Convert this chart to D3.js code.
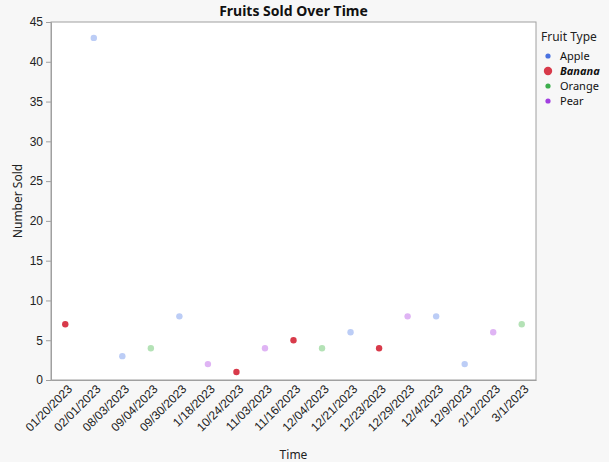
<!DOCTYPE html>
<html><head><meta charset="utf-8">
<script src="https://cdn.jsdelivr.net/npm/d3@7"></script>
<style>
body{margin:0;background:#f7f7f7;}
svg{display:block;font-family:"Segoe UI","Noto Sans","Open Sans",sans-serif;}
</style></head><body>
<svg id="c" width="609" height="462"></svg>
<script>
const categories = ["01/20/2023","02/01/2023","08/03/2023","09/04/2023","09/30/2023","1/18/2023","10/24/2023","11/03/2023","11/16/2023","12/04/2023","12/21/2023","12/23/2023","12/29/2023","12/4/2023","12/9/2023","2/12/2023","3/1/2023"];
const fruits = ["Banana","Apple","Apple","Orange","Apple","Pear","Banana","Pear","Banana","Orange","Apple","Banana","Pear","Apple","Apple","Pear","Orange"];
const values = [7,43,3,4,8,2,1,4,5,4,6,4,8,8,2,6,7];
const legendNames = ["Apple","Banana","Orange","Pear"];
const legendColors = ["#4a72e0","#d83a4a","#3cae4c","#a23fe0"];
const pointColors = ["#bccdf6","#d83a4a","#b4e2b6","#dfb4f4"];
const yTicks = [0,5,10,15,20,25,30,35,40,45];

const svg = d3.select("#c");
const m = {l:51, r:536, t:22, b:380};
const x = d3.scalePoint().domain(categories).range([m.l, m.r]).padding(0.5);
const y = d3.scaleLinear().domain([0,45]).range([m.b, m.t]);
const col = d3.scaleOrdinal().domain(legendNames).range(pointColors);
const lcol = d3.scaleOrdinal().domain(legendNames).range(legendColors);

svg.append("rect").attr("x",m.l).attr("y",m.t).attr("width",m.r-m.l).attr("height",m.b-m.t)
  .attr("fill","#fff").attr("stroke","#a0a0a0").attr("stroke-width",1);

const ya = svg.append("g").attr("transform",`translate(${m.l},0)`)
  .call(d3.axisLeft(y).tickValues(yTicks).tickSize(5).tickPadding(3));
ya.select(".domain").attr("stroke","#a0a0a0");
ya.selectAll(".tick line").attr("stroke","#a0a0a0");
ya.selectAll("text").attr("font-size","12px").attr("fill","#222");

const xa = svg.append("g").attr("transform",`translate(0,${m.b})`)
  .call(d3.axisBottom(x).tickSize(0).tickPadding(6));
xa.select(".domain").attr("stroke","#a0a0a0");
xa.selectAll("text").attr("font-size","12px").attr("fill","#222")
  .attr("text-anchor","end").attr("dx","-0.15em").attr("dy","0.5em")
  .attr("transform","rotate(-45)");

const data = categories.map((c,i)=>({c, f:fruits[i], v:values[i]}));
svg.append("g").selectAll("circle").data(data).join("circle")
  .attr("cx",d=>x(d.c)).attr("cy",d=>y(d.v)).attr("r",3.2)
  .attr("fill",d=>col(d.f));

svg.append("text").attr("x",(m.l+m.r)/2).attr("y",16).attr("text-anchor","middle")
  .attr("font-size","14px").attr("font-weight","bold").attr("fill","#111").text("Fruits Sold Over Time");
svg.append("text").attr("x",(m.l+m.r)/2).attr("y",459).attr("text-anchor","middle")
  .attr("font-size","12px").attr("fill","#222").text("Time");
svg.append("text").attr("transform","translate(22,201) rotate(-90)").attr("text-anchor","middle")
  .attr("font-size","12px").attr("fill","#222").text("Number Sold");

const lg = svg.append("g");
lg.append("text").attr("x",541).attr("y",41).attr("font-size","12px").attr("fill","#222").text("Fruit Type");
legendNames.forEach((n,i)=>{
  const yy = 56 + i*15;
  const sel = n==="Banana";
  lg.append("circle").attr("cx",548).attr("cy",yy).attr("r",sel?4.2:2.6).attr("fill",lcol(n));
  lg.append("text").attr("x",560).attr("y",yy+4).attr("font-size","11px").attr("fill","#111")
    .attr("font-weight",sel?"bold":"normal").attr("font-style",sel?"italic":"normal").text(n);
});
</script></body></html>
